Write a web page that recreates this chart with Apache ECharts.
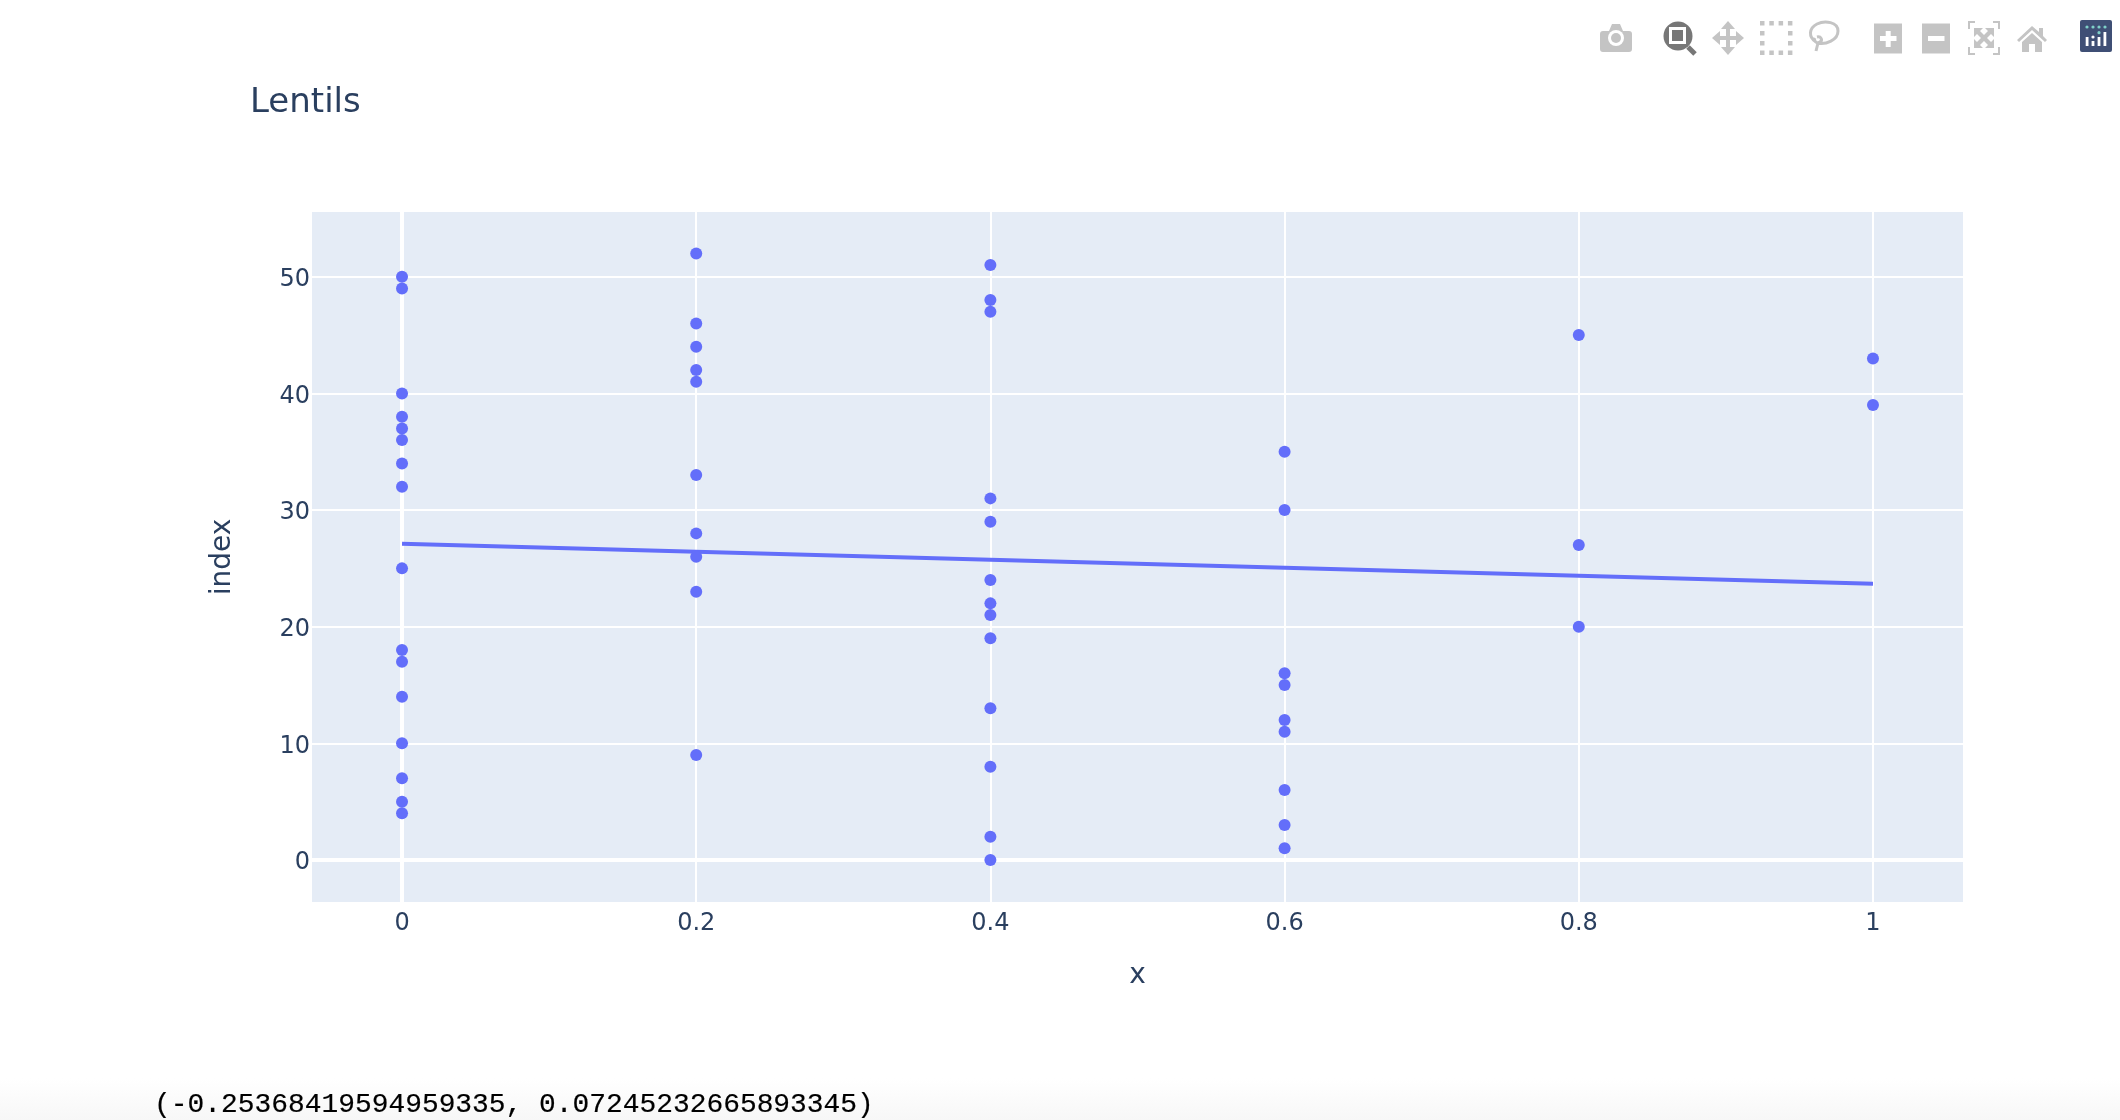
<!DOCTYPE html>
<html>
<head>
<meta charset="utf-8">
<style>
html,body{margin:0;padding:0;width:2120px;height:1120px;overflow:hidden;background:#fff}
#c{position:absolute;left:0;top:0;width:2120px;height:1120px}
</style>
<script src="https://cdn.jsdelivr.net/npm/echarts@6/dist/echarts.min.js"></script>
</head>
<body>
<div id="c"></div>
<script>
const titleText = 'Lentils';
const xName = 'x';
const yName = 'index';
const footerText = '(-0.25368419594959335, 0.07245232665893345)';
const xTicks = [0, 0.2, 0.4, 0.6, 0.8, 1];
const yTicks = [0, 10, 20, 30, 40, 50];
const xGroups = [0, 0.2, 0.4, 0.6, 0.8, 1];
const idxAt0 = [50, 49, 40, 38, 37, 36, 34, 32, 25, 18, 17, 14, 10, 7, 5, 4];
const idxAt02 = [52, 46, 44, 42, 41, 33, 28, 26, 23, 9];
const idxAt04 = [51, 48, 47, 31, 29, 24, 22, 21, 19, 13, 8, 2, 0];
const idxAt06 = [35, 30, 16, 15, 12, 11, 6, 3, 1];
const idxAt08 = [45, 27, 20];
const idxAt1 = [43, 39];
const trendX = [0, 1];
const trendY = [27.12, 23.68];

const groups = [idxAt0, idxAt02, idxAt04, idxAt06, idxAt08, idxAt1];
const points = [];
groups.forEach((g, i) => g.forEach(v => points.push([xGroups[i], v])));
const ink = '#2a3f5f', fontF = '"DejaVu Sans", Verdana, sans-serif';
const gray = '#c4c4c4', dark = '#777777', teal = '#7fd0c8';

let shapeCount = 0;
function svgIcon(d, style) {
  const name = 'icon' + (shapeCount++);
  echarts.graphic.registerShape(name, echarts.graphic.extendPath(d, {}));
  return {type: name, style};
}
const box = (x, y, width, height, fill) => ({type:'rect',shape:{x,y,width,height},style:{fill}});
const dot = (cx, cy, fill) => ({type:'circle',shape:{cx,cy,r:1.6},style:{fill}});
const selectDots = [];
for (let i = 0; i < 4; i++) {
  selectDots.push(box(1760 + i * 9.3, 21, 4.5, 4.5, gray), box(1760 + i * 9.3, 50.5, 4.5, 4.5, gray));
}
for (let i = 1; i < 3; i++) {
  selectDots.push(box(1760, 21 + i * 10, 4.5, 4.5, gray), box(1788, 21 + i * 10, 4.5, 4.5, gray));
}

const icons = [
  // camera
  svgIcon('M1603 31h6l3-7h8l3 7h6q3 0 3 3v15q0 3-3 3h-26q-3 0-3-3v-15q0-3 3-3z',{fill:gray}),
  {type:'circle',shape:{cx:1616,cy:38,r:8},style:{fill:'#fff'}},
  {type:'circle',shape:{cx:1616,cy:38,r:5},style:{fill:gray}},
  // zoom (active)
  {type:'line',shape:{x1:1688,y1:47,x2:1695,y2:54},style:{stroke:dark,lineWidth:5}},
  {type:'circle',shape:{cx:1678,cy:36,r:14.5},style:{fill:dark}},
  {type:'rect',shape:{x:1670.5,y:28.5,width:14,height:14},style:{fill:dark,stroke:'#fff',lineWidth:3}},
  // pan
  svgIcon('M1728 21l7 8h-5v7h6v-5l8 7-8 7v-5h-6v7h5l-7 8-7-8h5v-7h-6v5l-8-7 8-7v5h6v-7h-5z',{fill:gray}),
  // box select
  ...selectDots,
  // lasso
  svgIcon('M1816 42c-8-5-7-14 1-18 8-4 21-2 21 7 0 9-12 14-21 12m0-6c4-1 6 3 3 5-3 2-7-1-5-4m3 5l-2 8',{fill:'none',stroke:gray,lineWidth:3}),
  // plus
  box(1874,23.5,28,30,gray), box(1880,36,16.5,5,'#fff'), box(1885.7,31,5,16,'#fff'),
  // minus
  box(1922,23.5,28,30,gray), box(1928,36,16.5,5,'#fff'),
  // autoscale
  svgIcon('M1975 22h-6v7M1993 22h6v7M1975 54h-6v-7M1993 54h6v-7',{fill:'none',stroke:gray,lineWidth:2}),
  svgIcon('M1974 28h9l-3 3 4 4 4-4-3-3h9v9l-3-3-4 4 4 4 3-3v9h-9l3-3-4-4-4 4 3 3h-9v-9l3 3 4-4-4-4-3 3z',{fill:gray}),
  // home
  svgIcon('M2032 26l7 6v-4h4v8l4 4-2 2-13-12-13 12-2-2z',{fill:gray}),
  svgIcon('M2032 33l10 9v10h-7v-8h-6v8h-7v-10z',{fill:gray}),
  // logo
  {type:'rect',shape:{x:2080,y:20,width:32,height:32,r:2},style:{fill:'#3f4f75'}},
  box(2085.7,37,2.8,9,'#fff'), box(2091.6,41,2.8,5,'#fff'), box(2097.6,37,2.8,9,'#fff'), box(2103.5,32,2.8,14,'#fff'),
  dot(2087,27,teal), dot(2093,27,teal), dot(2099,27,teal), dot(2105,27,teal),
  dot(2093,37,'#fff'), dot(2099,32.7,teal)
];

const chart = echarts.init(document.getElementById('c'), null, {renderer:'canvas', width:2120, height:1120});
chart.setOption({
  animation:false,
  backgroundColor:'#fff',
  title:{text:titleText,left:250,top:86,padding:0,textStyle:{color:ink,fontFamily:fontF,fontSize:34,fontWeight:'normal'}},
  grid:{left:312,top:212,width:1651,height:690,backgroundColor:'#e5ecf6',show:true,borderWidth:0},
  xAxis:{
    type:'value',min:-0.0612,max:1.0612,
    name:xName,nameLocation:'middle',nameGap:60,
    nameTextStyle:{color:ink,fontFamily:fontF,fontSize:28},
    axisLine:{show:false},
    axisTick:{show:false,customValues:xTicks},
    axisLabel:{color:ink,fontFamily:fontF,fontSize:24,margin:10,customValues:xTicks,
      formatter:v=>String(v),showMinLabel:true,showMaxLabel:true},
    splitLine:{show:true,lineStyle:{color:'#fff',width:2}}
  },
  yAxis:{
    type:'value',min:-3.6,max:55.55,
    name:yName,nameLocation:'middle',nameGap:75,
    nameTextStyle:{color:ink,fontFamily:fontF,fontSize:28},
    axisLine:{show:false},
    axisTick:{show:false,customValues:yTicks},
    axisLabel:{color:ink,margin:2,customValues:yTicks,
      formatter:v=>'{t|'+v+'}',
      rich:{t:{color:ink,fontFamily:fontF,fontSize:24,padding:[6,0,0,0]}}},
    splitLine:{show:true,lineStyle:{color:'#fff',width:2}}
  },
  series:[
    {type:'scatter',data:[],silent:true,z:1,
      markLine:{silent:true,symbol:'none',animation:false,z:1,label:{show:false},
        lineStyle:{color:'#fff',width:4,type:'solid'},
        data:[{xAxis:0},{yAxis:0}]}},
    {type:'line',data:trendX.map((x,i)=>[x,trendY[i]]),showSymbol:false,z:3,
      lineStyle:{color:'#636efa',width:4,cap:'butt'},silent:true},
    {type:'scatter',data:points,symbol:'circle',symbolSize:12,z:4,
      itemStyle:{color:'#636efa',opacity:1}}
  ],
  graphic:[
    {type:'rect',silent:true,z:-1,shape:{x:0,y:1078,width:2120,height:42},
      style:{fill:{type:'linear',x:0,y:0,x2:0,y2:1,colorStops:[{offset:0,color:'#ffffff'},{offset:1,color:'#f7f7f7'}]}}},
    {type:'text',left:154,top:1091,z:5,style:{text:footerText,fill:'#000',stroke:'#000',lineWidth:0.2,font:'27.9px "Liberation Mono", monospace'}},
    {type:'group',silent:true,children:icons}
  ]
});
</script>
</body>
</html>
